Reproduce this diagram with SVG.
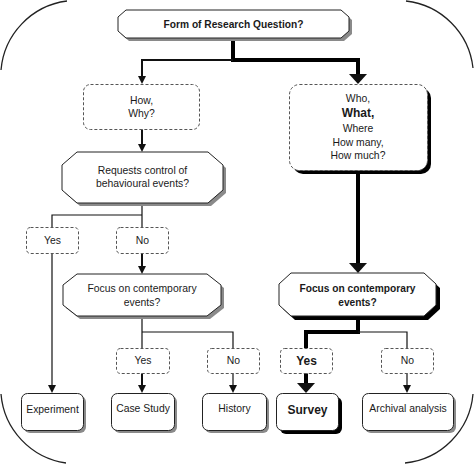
<svg xmlns="http://www.w3.org/2000/svg" width="474" height="464" viewBox="0 0 474 464">
<style>
text{font-family:"Liberation Sans",Arial,sans-serif;font-size:10.4px;fill:#1a1a1a;text-anchor:middle}
.b{font-weight:bold;font-size:10.2px}
.big{font-size:12px;font-weight:bold}
.oct{fill:#fff;stroke:#222;stroke-width:1}
.sh{fill:#8a8a8a}
.shk{fill:#000}
.dash{fill:#fff;stroke:#555;stroke-width:1;stroke-dasharray:3 2}
.box{fill:#fff;stroke:#222;stroke-width:1}
.ln{fill:none;stroke:#111;stroke-width:1.2}
.ln2{fill:none;stroke:#111;stroke-width:2}
.lnk{fill:none;stroke:#000;stroke-width:4}
.ah{fill:#111}
.frame{fill:none;stroke:#222;stroke-width:1.3}
</style>
<rect width="474" height="464" fill="#fff"/>
<g id="frame">
<path class="frame" d="M1,70 A76,76 0 0 1 67,1"/>
<path class="frame" d="M406,1 A76,76 0 0 1 473,68"/>
<path class="frame" d="M473,394 A76,76 0 0 1 405,463"/>
<path class="frame" d="M66,463 A76,76 0 0 1 1,394"/>
</g>
<g id="connectors">
<path class="lnk" d="M233,38 V60 H358 V75"/>
<polygon class="ah" points="349,74 367,74 358,84"/>
<path class="ln2" d="M233,60 H142 V77"/>
<polygon class="ah" points="138,76 146,76 142,84"/>
<path class="ln2" d="M142,129 V145"/>
<polygon class="ah" points="138,144 146,144 142,152"/>
<path class="lnk" d="M358,170 V264"/>
<polygon class="ah" points="349,263 367,263 358,273"/>
<path class="ln" d="M142,203 V227 M142,215 H52 V227"/>
<path class="ln2" d="M142,253 V267"/>
<polygon class="ah" points="138,266 146,266 142,274"/>
<path class="ln" d="M52,253 V386"/>
<polygon class="ah" points="48,385 56,385 52,393"/>
<path class="ln" d="M142,316 V348 M142,332 H233 V348"/>
<path class="ln2" d="M142,373 V386"/>
<polygon class="ah" points="138,385 146,385 142,393"/>
<path class="ln" d="M233,373 V386"/>
<polygon class="ah" points="229,385 237,385 233,393"/>
<path class="lnk" d="M358,316 V332 H306 V348"/>
<path class="ln" d="M358,332 H407 V348"/>
<path class="lnk" d="M306,373 V384"/>
<polygon class="ah" points="297,383 315,383 306,393"/>
<path class="ln" d="M407,373 V386"/>
<polygon class="ah" points="403,385 411,385 407,393"/>
</g>
<g id="n-form">
<polygon class="sh" transform="translate(3,3)" points="126,10 341,10 349,17 349,31 341,38 126,38 118,31 118,17"/>
<polygon class="oct" points="126,10 341,10 349,17 349,31 341,38 126,38 118,31 118,17"/>
<text class="b" x="233.5" y="27.5">Form of Research Question?</text>
</g>
<g id="n-howwhy">
<rect class="dash" x="83.5" y="84.5" width="116" height="45" rx="7"/>
<text x="141.5" y="104">How,</text>
<text x="141.5" y="117">Why?</text>
</g>
<g id="n-who">
<rect class="shk" x="293" y="88" width="138" height="86" rx="10"/>
<rect class="dash" x="289.5" y="84.5" width="138" height="86" rx="10"/>
<text x="358" y="102">Who,</text>
<text class="big" x="358" y="117">What,</text>
<text x="358" y="132">Where</text>
<text x="358" y="146">How many,</text>
<text x="358" y="159">How much?</text>
</g>
<g id="n-requests">
<polygon class="sh" transform="translate(3,3)" points="77,152 208,152 223,165 223,190 208,203 77,203 62,190 62,165"/>
<polygon class="oct" points="77,152 208,152 223,165 223,190 208,203 77,203 62,190 62,165"/>
<text x="142.5" y="173.5">Requests control of</text>
<text x="142.5" y="186.5">behavioural events?</text>
</g>
<g id="n-yes1">
<rect class="dash" x="26.5" y="227.5" width="52" height="26" rx="4"/>
<text x="52.5" y="243.5">Yes</text>
</g>
<g id="n-no1">
<rect class="dash" x="116.5" y="227.5" width="52" height="26" rx="4"/>
<text x="142.5" y="243.5">No</text>
</g>
<g id="n-focus1">
<polygon class="sh" transform="translate(3,3)" points="77,274 207,274 221,285 221,305 207,316 77,316 63,305 63,285"/>
<polygon class="oct" points="77,274 207,274 221,285 221,305 207,316 77,316 63,305 63,285"/>
<text x="142" y="291.5">Focus on contemporary</text>
<text x="142" y="305.5">events?</text>
</g>
<g id="n-focus2">
<polygon class="shk" transform="translate(4,4)" points="291,273 424,273 436,284 436,305 424,316 291,316 279,305 279,284"/>
<polygon class="oct" points="291,273 424,273 436,284 436,305 424,316 291,316 279,305 279,284"/>
<text class="b" x="357.5" y="292">Focus on contemporary</text>
<text class="b" x="357.5" y="306">events?</text>
</g>
<g id="n-yes2">
<rect class="dash" x="116.5" y="348.5" width="53" height="25" rx="4"/>
<text x="143" y="364">Yes</text>
</g>
<g id="n-no2">
<rect class="dash" x="207.5" y="348.5" width="52" height="25" rx="4"/>
<text x="233.5" y="364">No</text>
</g>
<g id="n-yes3">
<rect class="dash" x="280.5" y="348.5" width="52" height="25" rx="4"/>
<text class="big" x="306.5" y="365">Yes</text>
</g>
<g id="n-no3">
<rect class="dash" x="381.5" y="348.5" width="52" height="25" rx="4"/>
<text x="407.5" y="364">No</text>
</g>
<g id="n-experiment">
<rect class="sh" x="24" y="396" width="62" height="37" rx="6"/>
<rect class="box" x="21.5" y="393.5" width="62" height="37" rx="6"/>
<text x="52.5" y="413">Experiment</text>
</g>
<g id="n-casestudy">
<rect class="sh" x="114" y="396" width="63" height="37" rx="6"/>
<rect class="box" x="111.5" y="393.5" width="63" height="37" rx="6"/>
<text x="143" y="412">Case Study</text>
</g>
<g id="n-history">
<rect class="sh" x="205" y="396" width="64" height="37" rx="6"/>
<rect class="box" x="202.5" y="393.5" width="64" height="37" rx="6"/>
<text x="234.5" y="412">History</text>
</g>
<g id="n-survey">
<rect class="shk" x="280" y="397" width="62" height="37" rx="6"/>
<rect class="box" x="276.5" y="393.5" width="62" height="37" rx="6"/>
<text class="big" x="307.5" y="414">Survey</text>
</g>
<g id="n-archival">
<rect class="sh" x="365" y="396" width="91" height="37" rx="6"/>
<rect class="box" x="362.5" y="393.5" width="91" height="37" rx="6"/>
<text x="408" y="412">Archival analysis</text>
</g>
</svg>
